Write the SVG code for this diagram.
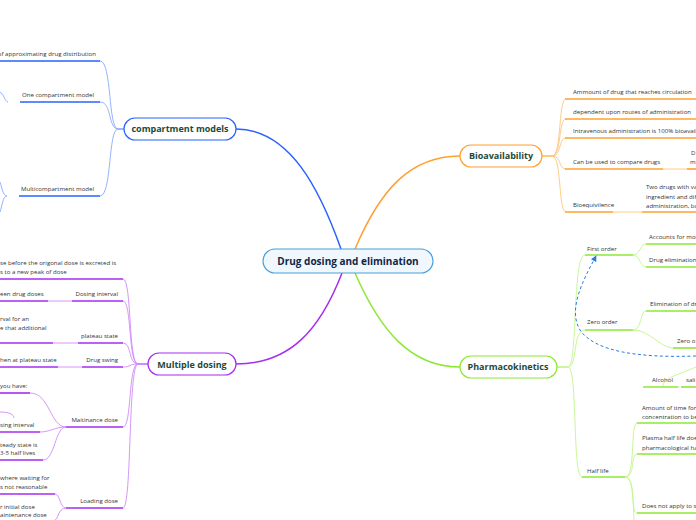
<svg xmlns="http://www.w3.org/2000/svg" width="696" height="520" viewBox="0 0 696 520">
<style>
text{font-family:"Open Sans","Noto Sans",sans-serif;font-size:6.1px;fill:#333}
.n{font-size:9px;font-weight:bold;fill:#1d4a3b}
.r{text-anchor:end}
.c{text-anchor:middle}
.b{stroke:#2962ff}.o{stroke:#ffa030}.g{stroke:#8de834}.p{stroke:#a52cf0}
.lb{stroke:#8aa8ff}.lo{stroke:#ffc67a}.lg{stroke:#c2f58e}.lp{stroke:#d08af8}
.ul{stroke-width:1.6;fill:none}
.ln{stroke-width:0.9;fill:none}
.mb{stroke-width:1.5;fill:none}
</style>
<defs><marker id="ar" markerWidth="6" markerHeight="6" refX="3" refY="3" orient="auto"><path d="M0,0L6,3L0,6z" fill="#2a7be0"/></marker></defs>
<rect width="696" height="520" fill="#fff"/>
<g id="connectors">
<path class="mb b" d="M341,249C320,190 290,129 236,129"/>
<path class="mb o" d="M355,249C380,190 410,156 460,156"/>
<path class="mb g" d="M355,273C380,330 410,367 460,367"/>
<path class="mb p" d="M342,273C320,330 290,364 236,364"/>
<g class="ln lb">
<path d="M124,129H118C108,129 112,61 100,61"/>
<path d="M124,129H118C108,129 112,102 100,102"/>
<path d="M124,129H118C108,129 112,196 100,196"/>
<path d="M0,92C4,94 5,102 8,102"/><path d="M0,182C2,188 3,196 7,196C3,196 2,206 0,212"/>
</g>
<g class="ul b"><path d="M0,61H100"/><path d="M20,102H100"/><path d="M19,196H100"/></g>
<g class="ln lo">
<path d="M542,156H552C562,156 558,99 566,99"/>
<path d="M542,156H552C562,156 558,119 566,119"/>
<path d="M542,156H552C562,156 558,138 566,138"/>
<path d="M542,156H552C562,156 558,169 566,169"/>
<path d="M542,156H552C562,156 558,212 566,212"/>
<path d="M663,169H687"/><path d="M613,212H642"/>
</g>
<g class="ul o"><path d="M565,99H696"/><path d="M565,119H696"/><path d="M565,138H696"/><path d="M565,169H663"/><path d="M687,169H696"/><path d="M565,212H613"/><path d="M642,212H696"/></g>
<g class="ln lg">
<path d="M557,367H568C578,367 572,255 585,255"/>
<path d="M557,367H568C578,367 572,330 585,330"/>
<path d="M557,367H568C578,367 572,477 582,477"/>
<path d="M633,255C640,255 640,244 646,244"/><path d="M633,255C640,255 640,267 646,267"/>
<path d="M633,330C642,330 640,311 646,311"/><path d="M633,330C650,330 660,348 673,348"/>
<path d="M663,387C662,378 680,374 696,367"/>
<path d="M625,477C636,477 630,423 637,423"/><path d="M625,477C636,477 630,454 637,454"/><path d="M625,477C636,477 630,513 637,513"/><path d="M625,477C634,477 633,500 634,520"/>
<path d="M678,387H680"/>
</g>
<g class="ul g"><path d="M585,255H633"/><path d="M646,244H696"/><path d="M646,267H696"/><path d="M585,330H633"/><path d="M646,311H696"/><path d="M673,348H696"/><path d="M643,387H678"/><path d="M681,387H696"/><path d="M582,477H625"/><path d="M637,423H696"/><path d="M637,454H696"/><path d="M637,513H696"/></g>
<path d="M696,356C640,358 595,352 580,330C568,310 582,282 595,258" fill="none" stroke="#2a7be0" stroke-width="1" stroke-dasharray="3,2.5" marker-end="url(#ar)"/>
<g class="ln lp">
<path d="M148,364H138C128,364 132,279 123,279"/>
<path d="M148,364H138C128,364 132,301 123,301"/>
<path d="M148,364H138C128,364 132,343 123,343"/>
<path d="M148,364H138C128,364 132,367 123,367"/>
<path d="M148,364H138C128,364 132,427 123,427"/>
<path d="M148,364H138C128,364 132,508 123,508"/>
<path d="M48,301H72"/><path d="M53,343H78"/><path d="M58,367H82"/>
<path d="M66,427C50,427 50,393 30,393"/><path d="M66,427C55,427 50,432 40,432"/><path d="M66,427C55,427 55,460 43,460"/>
<path d="M0,412C8,412 14,414 14,418"/>
<path d="M66,508C60,508 60,494 55,494"/><path d="M66,508C58,508 58,520 55,520"/>
</g>
<g class="ul p"><path d="M0,279H123"/><path d="M72,301H123"/><path d="M0,301H48"/><path d="M78,343H123"/><path d="M0,343H53"/><path d="M82,367H123"/><path d="M0,367H58"/><path d="M66,427H123"/><path d="M0,393H30"/><path d="M0,432H40"/><path d="M0,460H43"/><path d="M66,508H123"/><path d="M0,494H55"/></g>
</g>
<g id="center"><rect x="263" y="249" width="170" height="24" rx="12" fill="#f1f8fd" stroke="#4a9fd8" stroke-width="1.2"/><text class="n c" x="348" y="265" style="fill:#0e2748;font-size:10px">Drug dosing and elimination</text></g>
<g id="compartment"><rect x="124" y="118" width="112" height="22" rx="11" fill="#fff" stroke="#2962ff" stroke-width="1.2"/><text class="n c" x="180" y="132">compartment models</text>
<text class="r" x="96" y="56">of approximating drug distribution</text><text class="r" x="94" y="97">One compartment model</text><text class="r" x="94" y="191">Multicompartment model</text></g>
<g id="bioavailability"><rect x="460" y="145" width="82" height="22" rx="11" fill="#fff" stroke="#ffa030" stroke-width="1.2"/><text class="n c" x="501" y="159">Bioavailability</text>
<text x="573" y="94">Ammount of drug that reaches circulation</text><text x="573" y="114">dependent upon routes of administration</text><text x="573" y="133">Intravenous administration is 100% bioavailable</text><text x="573" y="164">Can be used to compare drugs</text><text x="691" y="155">D</text><text x="690" y="164">m</text><text x="573" y="207">Bioequivilence</text><text x="646" y="189">Two drugs with va</text><text x="646" y="199">ingredient and diff</text><text x="646" y="208">administration, bu</text></g>
<g id="pharmacokinetics"><rect x="460" y="356" width="97" height="22" rx="11" fill="#fff" stroke="#8de834" stroke-width="1.2"/><text class="n c" x="508" y="370">Pharmacokinetics</text>
<text x="587" y="251">First order</text><text x="649" y="239">Accounts for most</text><text x="649" y="262">Drug elimination</text>
<text x="587" y="324">Zero order</text><text x="650" y="306">Elimination of dr</text><text x="677" y="343">Zero o</text><text x="652" y="382">Alcohol</text><text x="686" y="382">sali</text>
<text x="587" y="473">Half life</text><text x="642" y="410">Amount of time for</text><text x="642" y="419">concentration to be</text><text x="642" y="440">Plasma half life does</text><text x="642" y="450">pharmacological ha</text><text x="642" y="508">Does not apply to s</text></g>
<g id="multiple"><rect x="148" y="353" width="88" height="22" rx="11" fill="#fff" stroke="#a52cf0" stroke-width="1.2"/><text class="n c" x="192" y="368">Multiple dosing</text>
<text x="0" y="265">se before the origonal dose is excreted is</text><text x="0" y="274">s to a new peak of dose</text>
<text class="r" x="118" y="296">Dosing interval</text><text x="0" y="296">een drug doses</text>
<text class="r" x="118" y="338">plateau state</text><text x="0" y="321">rval for an</text><text x="0" y="330">e that additional</text>
<text class="r" x="118" y="362">Drug swing</text><text x="0" y="362">hen at plateau state</text>
<text class="r" x="118" y="422">Maitinance dose</text><text x="0" y="388">you have:</text><text x="0" y="427">sing interval</text><text x="0" y="447">teady state is</text><text x="0" y="455">3-5 half lives</text>
<text class="r" x="118" y="503">Loading dose</text><text x="0" y="480">where waiting for</text><text x="0" y="489">s not reasonable</text><text x="0" y="509">r initial dose</text><text x="0" y="517">aintenance dose</text></g>
</svg>
